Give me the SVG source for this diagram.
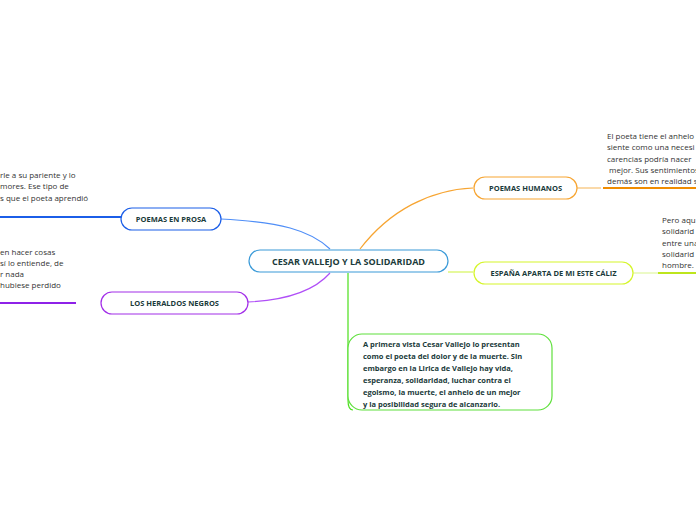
<svg xmlns="http://www.w3.org/2000/svg" width="696" height="520" viewBox="0 0 696 520">
<style>
text{font-family:"Open Sans","Noto Sans",sans-serif;}
.t{font-size:8px;fill:#333;}
.n{font-size:8px;font-weight:bold;fill:#1a3a3a;}
.b{fill:#fff;stroke-width:1.2;}
</style>
<rect width="696" height="520" fill="#fff"/>
<g id="connectors" fill="none" stroke-width="1.2">
<path d="M221,219 C280,222 310,230 330,249" stroke="#4f8ef7"/>
<path d="M0,217 H121" stroke="#1b5ee8" stroke-width="2"/>
<path d="M248,302 C290,300 315,290 330,273" stroke="#b04ff7"/>
<path d="M0,303 H76" stroke="#8e21e8" stroke-width="2"/>
<path d="M360,249 C390,210 430,190 473,188" stroke="#f7a532"/>
<path d="M577,188 H601" stroke="#f7c070"/>
<path d="M603,188 H696" stroke="#f08c00" stroke-width="2"/>
<path d="M448,272 H473" stroke="#d5f55a"/>
<path d="M633,273 H658" stroke="#e0f7a0"/>
<path d="M658,273 H696" stroke="#bde51c" stroke-width="2"/>
<path d="M348,273 V400 Q348,410 353,410" stroke="#4be01c"/>
</g>
<g id="n-center"><rect class="b" x="249" y="250" width="199" height="22" rx="11" stroke="#3a9ad8"/><text x="348.5" y="265" text-anchor="middle" class="n" style="font-size:9px">CESAR VALLEJO Y LA SOLIDARIDAD</text></g>
<g id="n-prosa"><rect class="b" x="121" y="208" width="100" height="22" rx="11" stroke="#1b5ee8"/><text x="171" y="222" text-anchor="middle" class="n" style="font-size:7.5px">POEMAS EN PROSA</text></g>
<g id="n-heraldos"><rect class="b" x="101" y="292" width="147" height="22" rx="11" stroke="#a22ee8"/><text x="174.5" y="306" text-anchor="middle" class="n" style="font-size:7.5px">LOS HERALDOS NEGROS</text></g>
<g id="n-humanos"><rect class="b" x="474" y="177" width="103" height="22" rx="11" stroke="#f7a532"/><text x="525.5" y="191" text-anchor="middle" class="n" style="font-size:7.5px">POEMAS HUMANOS</text></g>
<g id="n-espana"><rect class="b" x="474" y="262" width="159" height="22" rx="11" stroke="#d5f52a"/><text x="553.5" y="276" text-anchor="middle" class="n" style="font-size:7.5px">ESPAÑA APARTA DE MI ESTE CÁLIZ</text></g>
<g id="n-green"><rect class="b" x="348" y="334" width="204" height="76" rx="14" stroke="#5fe03c"/>
<text class="n" style="font-size:7.5px"><tspan x="363" y="347">A primera vista Cesar Vallejo lo presentan</tspan><tspan x="363" y="359">como el poeta del dolor y de la muerte. Sin</tspan><tspan x="363" y="371">embargo en la Lirica de Vallejo hay vida,</tspan><tspan x="363" y="383">esperanza, solidaridad, luchar contra el</tspan><tspan x="363" y="395">egoismo, la muerte, el anhelo de un mejor</tspan><tspan x="363" y="407">y la posibilidad segura de alcanzarlo.</tspan></text></g>
<g id="t-prosa"><text class="t"><tspan x="0" y="178">rle a su pariente y lo</tspan><tspan x="0" y="189">mores. Ese tipo de</tspan><tspan x="0" y="201">s que el poeta aprendió</tspan></text></g>
<g id="t-heraldos"><text class="t"><tspan x="0" y="255">en hacer cosas</tspan><tspan x="0" y="266">sí lo entiende, de</tspan><tspan x="0" y="277">r nada</tspan><tspan x="0" y="288">hubiese perdido</tspan></text></g>
<g id="t-humanos"><text class="t"><tspan x="607" y="139">El poeta tiene el anhelo</tspan><tspan x="607" y="150">siente como una necesi</tspan><tspan x="607" y="162">carencias podría nacer</tspan><tspan x="607" y="173"> mejor. Sus sentimientos</tspan><tspan x="607" y="184">demás son en realidad s</tspan></text></g>
<g id="t-espana"><text class="t"><tspan x="662" y="223">Pero aqu</tspan><tspan x="662" y="234">solidarid</tspan><tspan x="662" y="246">entre una</tspan><tspan x="662" y="257">solidarid</tspan><tspan x="662" y="268">hombre.</tspan></text></g>
</svg>
